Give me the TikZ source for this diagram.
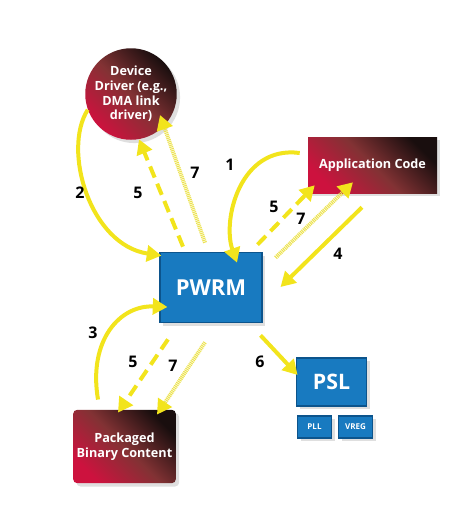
\documentclass[tikz,border=0pt]{standalone}
\usepackage{fontspec}
\setmainfont{Open Sans}
\usetikzlibrary{arrows.meta,calc,shadows}
\definecolor{ylw}{RGB}{242,228,28}
\definecolor{ylwlight}{RGB}{236,226,80}
\definecolor{crim}{RGB}{205,18,62}
\definecolor{brn}{RGB}{130,50,52}
\definecolor{drk}{RGB}{25,14,14}
\definecolor{pblue}{RGB}{24,122,192}
\definecolor{pblued}{RGB}{12,84,140}
\begin{document}
\begin{tikzpicture}[x=0.75pt,y=-0.75pt,
  dark/.style={top color=drk, bottom color=crim, middle color=brn, shading angle=-45,
    text=white, font=\fontsize{9.5}{11}\selectfont\bfseries, align=center, inner sep=0pt,
    drop shadow={opacity=0.25, shadow xshift=2.5pt, shadow yshift=-2.5pt}},
  bluebox/.style={rectangle, fill=pblue, draw=pblued, line width=0.8pt, text=white,
    font=\bfseries, inner sep=0pt,
    drop shadow={opacity=0.25, shadow xshift=2.5pt, shadow yshift=-2.5pt}},
  num/.style={font=\fontsize{12}{14}\selectfont\bfseries, text=black},
  arr/.style={line width=3pt, draw=ylw, -{Triangle[length=11pt,width=12pt]}},
  dsh/.style={arr, dash pattern=on 9pt off 5pt},
  dtt/.style={line width=3pt, draw=ylwlight, dash pattern=on 0.8pt off 0.6pt,
    -{Triangle[length=11pt,width=12pt,color=ylw]}}
]
\useasboundingbox (0,0) rectangle (474,519);
% nodes
\node[dark, circle, minimum size=66pt] (dd) at (131,94) {Device\\Driver (e.g.,\\DMA link\\driver)};
\node[dark, rectangle, minimum width=96.75pt, minimum height=42pt] (app) at (372.5,165) {Application Code};
\node[bluebox, minimum width=76.5pt, minimum height=53pt, font=\fontsize{16.5}{18}\selectfont\bfseries] (pwrm) at (211,287.5) {PWRM};
\node[bluebox, minimum width=53pt, minimum height=36pt, font=\fontsize{16}{18}\selectfont\bfseries] (psl) at (331.5,382) {PSL};
\node[bluebox, minimum width=26pt, minimum height=16.5pt, font=\fontsize{6}{7}\selectfont\bfseries] (pll) at (314.5,427) {PLL};
\node[bluebox, minimum width=26pt, minimum height=16.5pt, font=\fontsize{6}{7}\selectfont\bfseries] (vreg) at (355.5,427) {VREG};
\node[dark, rectangle, rounded corners=3pt, minimum width=77pt, minimum height=55pt] (pbc) at (124.5,446.5) {Packaged\\Binary Content};
% arrows
\draw[arr] (dd.200) .. controls (62,150) and (90,245) .. ($(pwrm.north west)+(2,4)$);
\draw[dsh] ($(pwrm.north)+(-28,-5)$) -- (dd.280);
\draw[dtt] ($(pwrm.north)+(-6,-9)$) -- ($(dd.center)+(29,21)$);
\draw[arr] ($(app.west)+(-8,-12)$) .. controls (240,145) and (222,220) .. ($(pwrm.north)+(26,11)$);
\draw[dsh] ($(pwrm.north east)+(-5,-7)$) -- ($(app.south west)+(7,-8)$);
\draw[dtt] ($(pwrm.north east)+(13,6)$) -- ($(app.south)+(-19.5,-11)$);
\draw[arr] ($(app.south)+(-10.5,14)$) -- ($(pwrm.east)+(18,-0.5)$);
\draw[arr] ($(pbc.north)+(-26.5,-10)$) .. controls (88,340) and (120,305) .. ($(pwrm.west)+(8,19.5)$);
\draw[dsh] ($(pwrm.south)+(-43,16)$) -- ($(pbc.north)+(-6.5,3)$);
\draw[dtt] ($(pwrm.south)+(-6,19)$) -- ($(pbc.north)+(32.5,5)$);
\draw[arr] ($(pwrm.south east)+(-2,12)$) -- ($(psl.west)+(2,-7)$);
% labels
\node[num] (n2) at (80,193) {2};
\node[num] (n5a) at (138,193) {5};
\node[num] (n7a) at (195,173) {7};
\node[num] (n1) at (230,165) {1};
\node[num] (n5b) at (274,207) {5};
\node[num] (n7b) at (301,219) {7};
\node[num] (n4) at (338,254) {4};
\node[num] (n3) at (93,333) {3};
\node[num] (n5c) at (133,362) {5};
\node[num] (n7c) at (173,366) {7};
\node[num] (n6) at (260,362) {6};
\end{tikzpicture}
\end{document}
